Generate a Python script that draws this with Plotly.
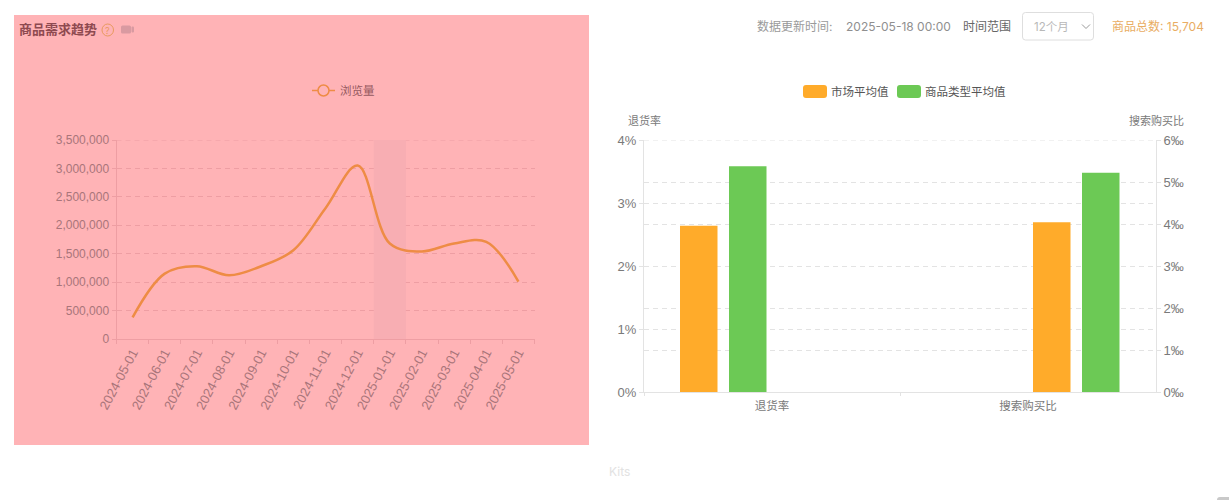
# -*- coding: utf-8 -*-
import plotly.graph_objects as go

W, H = 1229, 500
FONT = "Inter, 'Noto Sans CJK SC', sans-serif"
TICK_FONT = "'Liberation Sans', 'Noto Sans CJK SC', sans-serif"

## LEFT CHART DATA
months = ['2024-05-01', '2024-06-01', '2024-07-01', '2024-08-01', '2024-09-01', '2024-10-01', '2024-11-01',
          '2024-12-01', '2025-01-01', '2025-02-01', '2025-03-01', '2025-04-01', '2025-05-01']
views = [380000, 1150000, 1280000, 1120000, 1280000, 1560000, 2300000,
         3050000, 1680000, 1540000, 1680000, 1710000, 1010000]
views_ticks = [0, 500000, 1000000, 1500000, 2000000, 2500000, 3000000, 3500000]

## RIGHT CHART DATA
metrics = ['退货率', '搜索购买比']
return_market = [2.64, None]
return_type = [3.585, None]
search_market = [None, 4.04]
search_type = [None, 5.22]
pct_ticks = [0, 1, 2, 3, 4]
pct_labels = ['0%', '1%', '2%', '3%', '4%']
permille_ticks = [0, 1, 2, 3, 4, 5, 6]
permille_labels = ['0‰', '1‰', '2‰', '3‰', '4‰', '5‰', '6‰']

ORANGE = '#ffab2a'
GREEN = '#6cc955'
PINK = '#ffb3b6'
PINK_GRID = '#ee9ea3'
PINK_TEXT = '#a9757a'
GREY_GRID = '#e3e3e3'
GREY_TEXT = '#7a7a7a'
DASH = '5px,4px'

BAR_W = 37.5 / 256  # in category units


def px(x):
    return x / W


def py(y):
    return 1 - y / H


def text(x, y, s, color, size=12, anchor='left', bold=False):
    # annotations carry about 2px of padding on the left
    x = x - 2 if anchor == 'left' else x
    return dict(xref='paper', yref='paper', x=px(x), y=py(y), text='<b>%s</b>' % s if bold else s,
                showarrow=False, xanchor=anchor, yanchor='middle', align=anchor,
                font=dict(size=size, color=color, family=FONT))


def rounded(x0, y0, x1, y1, r, fill=None, line=None, width=1):
    path = ('M%s,%s L%s,%s Q%s,%s %s,%s L%s,%s Q%s,%s %s,%s L%s,%s Q%s,%s %s,%s L%s,%s Q%s,%s %s,%s Z' % (
        px(x0 + r), py(y0), px(x1 - r), py(y0), px(x1), py(y0), px(x1), py(y0 + r),
        px(x1), py(y1 - r), px(x1), py(y1), px(x1 - r), py(y1),
        px(x0 + r), py(y1), px(x0), py(y1), px(x0), py(y1 - r),
        px(x0), py(y0 + r), px(x0), py(y0), px(x0 + r), py(y0)))
    return dict(type='path', xref='paper', yref='paper', path=path, fillcolor=fill or 'rgba(0,0,0,0)',
                line=dict(color=line or 'rgba(0,0,0,0)', width=width if line else 0), layer='below')


fig = go.Figure()

# line chart
fig.add_trace(go.Scatter(x=months, y=views, mode='lines', name='浏览量', showlegend=False,
                         line=dict(color='#ee8c45', width=2.5, shape='spline', smoothing=1.0),
                         xaxis='x', yaxis='y'))

# 4 series, each axis gets two of them
fig.add_trace(go.Bar(x=metrics, y=return_market, name='市场平均值', marker=dict(color=ORANGE, line_width=0),
                     width=BAR_W, offset=-92 / 256, xaxis='x2', yaxis='y2', showlegend=False))
fig.add_trace(go.Bar(x=metrics, y=return_type, name='商品类型平均值', marker=dict(color=GREEN, line_width=0),
                     width=BAR_W, offset=-43 / 256, xaxis='x2', yaxis='y2', showlegend=False))
fig.add_trace(go.Bar(x=metrics, y=search_market, name='市场平均值', marker=dict(color=ORANGE, line_width=0),
                     width=BAR_W, offset=5 / 256, xaxis='x2', yaxis='y3', showlegend=False))
fig.add_trace(go.Bar(x=metrics, y=search_type, name='商品类型平均值', marker=dict(color=GREEN, line_width=0),
                     width=BAR_W, offset=54 / 256, xaxis='x2', yaxis='y3', showlegend=False))

shapes = [
    # pink panel
    dict(type='rect', xref='paper', yref='paper', x0=px(14), x1=px(589), y0=py(445), y1=py(15),
         fillcolor=PINK, line_width=0, layer='below'),
    # top grid lines, plotly drops the ones on the range ends
    dict(type='line', xref='x domain', yref='y', x0=0, x1=1, y0=views_ticks[-1], y1=views_ticks[-1],
         line=dict(color=PINK_GRID, width=1, dash=DASH), layer='below'),
    dict(type='line', xref='x2 domain', yref='y2', x0=0, x1=1, y0=pct_ticks[-1], y1=pct_ticks[-1],
         line=dict(color=GREY_GRID, width=1, dash=DASH), layer='below'),
    # hover band on 2025-01
    dict(type='rect', xref='x', yref='y', x0=7.5, x1=8.5, y0=0, y1=3500000,
         fillcolor='#f8aeb3', line_width=0, layer='between'),
    # help icon, video icon
    dict(type='circle', xref='paper', yref='paper', x0=px(102), x1=px(113.5), y0=py(36), y1=py(24),
         line=dict(color='#e89a5e', width=1), fillcolor='rgba(0,0,0,0)'),
    rounded(121, 25.5, 131, 33.5, 1.5, fill='#d99aa1'),
    rounded(131.5, 26.5, 134, 32.5, 1, fill='#d99aa1'),
    # legend of the line chart
    dict(type='line', xref='paper', yref='paper', x0=px(312), x1=px(335), y0=py(90.5), y1=py(90.5),
         line=dict(color='#ee8c45', width=1.5)),
    dict(type='circle', xref='paper', yref='paper', x0=px(318), x1=px(329), y0=py(96), y1=py(85),
         line=dict(color='#ee8c45', width=1.5), fillcolor=PINK),
    # legend of the bar chart
    rounded(803, 85, 827, 98, 3, fill=ORANGE),
    rounded(897, 85, 921, 98, 3, fill=GREEN),
    # select box
    rounded(1022.5, 12.5, 1093.5, 40, 3, fill='#ffffff', line='#dedede'),
    dict(type='path', xref='paper', yref='paper', line=dict(color='#999999', width=1),
         path='M%s,%s L%s,%s L%s,%s' % (px(1082), py(24.5), px(1086), py(28.5), px(1090), py(24.5))),
    # scrollbar corner
    rounded(1217, 497, 1240, 510, 3, fill='#c9c9c9'),
]

annotations = [
    text(19, 29.5, '商品需求趋势', '#8e4a50', size=13, bold=True),
    text(107.8, 30, '?', '#e89a5e', size=9, anchor='center'),
    text(340, 90.5, '浏览量', '#96595f', size=11.5),
    text(831, 91.5, '市场平均值', '#555555', size=11.5),
    text(925, 91.5, '商品类型平均值', '#555555', size=11.5),
    text(644, 121, '退货率', GREY_TEXT, size=11, anchor='center'),
    text(1156, 121, '搜索购买比', GREY_TEXT, size=11, anchor='center'),
    text(757, 26.5, '数据更新时间:', '#9a9a9a', size=12),
    text(846, 26.5, '2025-05-18 00:00', '#8f8f8f', size=12),
    text(963, 26.5, '时间范围', '#666666', size=12),
    text(1034, 26.5, '12个月', '#b8b8b8', size=11.5),
    text(1112, 26.5, '商品总数: 15,704', '#e9ad63', size=12),
    text(619, 471, 'Kits', '#e2e2e2', size=12, anchor='center'),
]

fig.update_layout(
    width=W, height=H, autosize=False, margin=dict(l=0, r=0, t=0, b=0, autoexpand=False),
    paper_bgcolor='white', plot_bgcolor='rgba(0,0,0,0)', barmode='overlay',
    font=dict(family=FONT, size=13), shapes=shapes, annotations=annotations,
    xaxis=dict(domain=[px(116.5), px(534.5)], anchor='y', type='category', categoryorder='array',
               categoryarray=months, range=[-0.5, 12.5], tickson='boundaries', ticks='outside', ticklen=4,
               tickcolor=PINK_GRID, showline=True, linecolor=PINK_GRID, showgrid=False, automargin=False,
               tickangle=-62, tickfont=dict(size=13, color=PINK_TEXT, family=TICK_FONT)),
    yaxis=dict(domain=[py(339), py(140)], anchor='x', range=[0, 3500000], tickvals=views_ticks, tickformat=',',
               ticks='outside', ticklen=4, tickcolor=PINK_GRID, showline=True, linecolor=PINK_GRID,
               gridcolor=PINK_GRID, griddash=DASH, zeroline=False, automargin=False,
               tickfont=dict(size=12, color=PINK_TEXT, family=TICK_FONT)),
    xaxis2=dict(domain=[px(644), px(1156)], anchor='y2', type='category', categoryorder='array',
                categoryarray=metrics, range=[-0.5, 1.5], tickson='boundaries', ticks='outside', ticklen=3,
                tickcolor=GREY_GRID, showline=True, linecolor=GREY_GRID, showgrid=False, automargin=False,
                ticklabelstandoff=3, tickfont=dict(size=11.5, color=GREY_TEXT, family=TICK_FONT)),
    yaxis2=dict(domain=[py(392), py(140)], anchor='x2', range=[0, 4], tickvals=pct_ticks, ticktext=pct_labels,
                ticks='outside', ticklen=4, tickcolor=GREY_GRID, showline=True, linecolor=GREY_GRID,
                gridcolor=GREY_GRID, griddash=DASH, zeroline=False, automargin=False,
                tickfont=dict(size=13, color=GREY_TEXT, family=TICK_FONT)),
    yaxis3=dict(domain=[py(392), py(140)], anchor='x2', overlaying='y2', side='right', range=[0, 6],
                tickvals=permille_ticks, ticktext=permille_labels, ticks='outside', ticklen=4,
                tickcolor=GREY_GRID, showline=True, linecolor=GREY_GRID, gridcolor=GREY_GRID, griddash=DASH,
                zeroline=False, automargin=False, tickfont=dict(size=13, color=GREY_TEXT, family=TICK_FONT)),
)

fig.write_html("out.html", config={'displayModeBar': False},
               post_script="document.body.style.margin='0';document.body.style.overflow='hidden';")
